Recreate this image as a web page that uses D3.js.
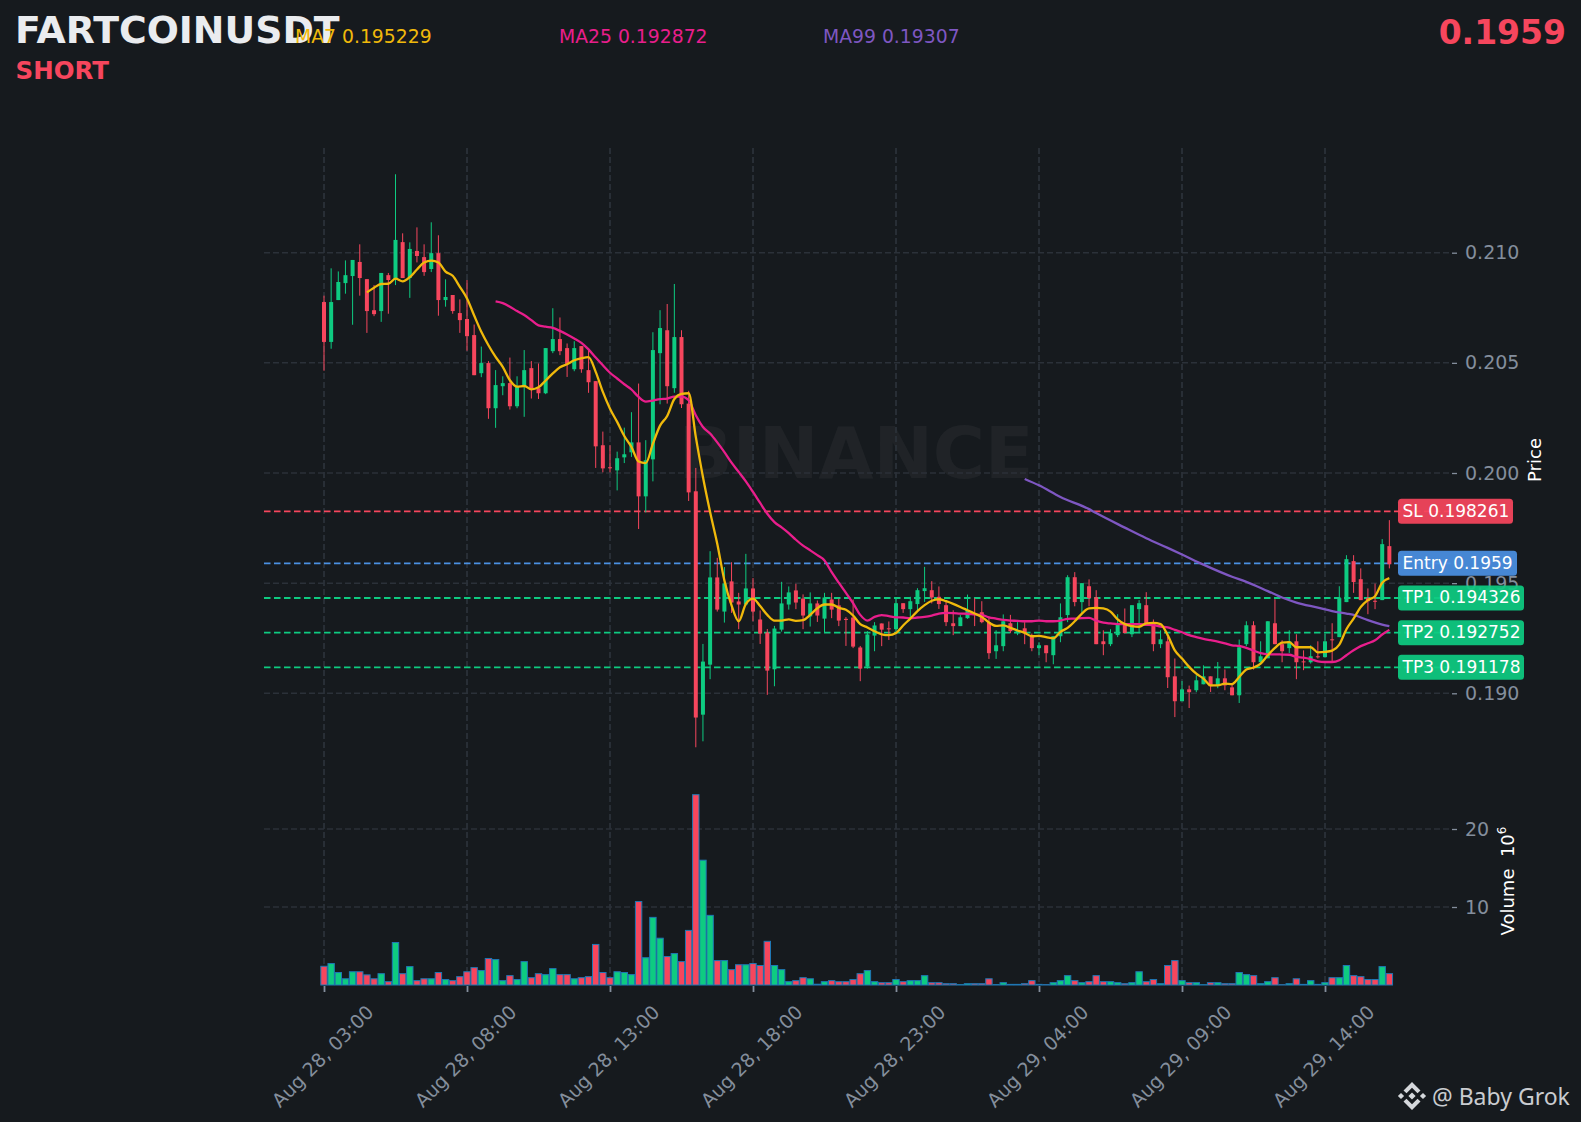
<!DOCTYPE html>
<html><head><meta charset="utf-8">
<script src="https://cdn.jsdelivr.net/npm/d3@7/dist/d3.min.js"></script>
<style>html,body{margin:0;padding:0;background:#161a1e}svg{display:block}text{font-family:"DejaVu Sans",sans-serif;white-space:pre}</style>
</head><body><svg id="c" width="1581" height="1122"></svg>
<script>
const opens=[.20776,.20595,.20785,.20862,.20894,.20958,.20880,.20739,.20735,.20898,.20880,.21048,.20885,.21008,.20980,.20926,.20998,.20785,.20808,.20726,.20699,.20626,.20453,.20499,.20294,.20394,.20408,.20303,.20394,.20476,.20385,.20362,.20553,.20608,.20567,.20471,.20576,.20467,.20417,.20126,.20026,.20012,.20071,.20094,.20139,.19894,.20062,.20544,.20648,.20385,.20617,.20315,.19917,.18903,.19130,.19526,.19371,.19508,.19417,.19403,.19476,.19335,.19276,.19109,.19289,.19403,.19467,.19430,.19349,.19408,.19339,.19426,.19399,.19338,.19344,.19208,.19121,.19262,.19317,.19295,.19291,.19409,.19382,.19405,.19464,.19468,.19438,.19400,.19318,.19305,.19341,.19365,.19368,.19323,.19191,.19214,.19318,.19273,.19295,.19259,.19205,.19218,.19173,.19259,.19355,.19527,.19414,.19486,.19436,.19236,.19223,.19264,.19314,.19268,.19382,.19400,.19323,.19223,.19236,.19077,.18964,.19018,.19014,.19041,.19077,.19036,.19068,.19027,.18991,.19223,.19309,.19141,.19159,.19318,.19223,.19205,.19236,.19145,.19141,.19168,.19164,.19245,.19255,.19414,.19600,.19518,.19432,.19420,.19423,.19668];
const highs=[.20805,.20929,.20915,.20965,.20967,.21038,.20880,.20853,.20908,.20908,.21356,.21088,.21047,.21115,.21038,.21138,.21079,.20879,.20808,.20788,.20876,.20674,.20574,.20508,.20467,.20439,.20524,.20439,.20558,.20508,.20497,.20567,.20748,.20706,.20588,.20598,.20576,.20558,.20417,.20188,.20126,.20097,.20206,.20276,.20406,.20149,.20639,.20739,.20767,.20858,.20648,.20373,.20023,.19224,.19645,.19615,.19573,.19595,.19456,.19633,.19523,.19376,.19292,.19306,.19506,.19485,.19497,.19449,.19458,.19421,.19456,.19456,.19429,.19346,.19426,.19215,.19282,.19323,.19317,.19326,.19430,.19409,.19438,.19477,.19574,.19509,.19485,.19423,.19377,.19355,.19448,.19432,.19418,.19347,.19286,.19358,.19356,.19323,.19323,.19271,.19232,.19218,.19259,.19408,.19536,.19550,.19500,.19517,.19468,.19286,.19291,.19359,.19385,.19400,.19423,.19459,.19335,.19286,.19256,.19158,.19056,.19035,.19082,.19127,.19077,.19142,.19108,.19044,.19244,.19327,.19327,.19236,.19327,.19427,.19241,.19286,.19268,.19195,.19218,.19236,.19271,.19318,.19486,.19627,.19627,.19567,.19476,.19498,.19700,.19786];
const lows=[.20464,.20564,.20785,.20814,.20673,.20805,.20636,.20712,.20686,.20723,.20853,.20885,.20795,.20956,.20895,.20912,.20714,.20755,.20723,.20636,.20555,.20444,.20435,.20246,.20205,.20353,.20288,.20294,.20255,.20338,.20336,.20358,.20544,.20535,.20436,.20462,.20455,.20364,.20023,.20003,.20003,.19921,.20045,.20073,.19746,.19821,.19962,.20312,.20315,.20364,.20295,.19873,.18755,.18782,.19064,.19371,.19321,.19365,.19291,.19397,.19327,.19224,.18993,.19032,.19280,.19380,.19382,.19291,.19303,.19324,.19274,.19341,.19305,.19215,.19205,.19055,.19112,.19191,.19214,.19242,.19279,.19365,.19341,.19377,.19415,.19408,.19383,.19305,.19264,.19305,.19338,.19305,.19318,.19156,.19156,.19191,.19274,.19264,.19223,.19191,.19173,.19141,.19132,.19232,.19323,.19395,.19359,.19395,.19223,.19173,.19214,.19255,.19273,.19255,.19273,.19314,.19191,.19205,.19024,.18892,.18964,.18933,.19005,.19041,.19006,.19023,.19014,.18991,.18956,.19214,.19108,.19141,.19159,.19223,.19141,.19183,.19064,.19105,.19135,.19158,.19164,.19141,.19255,.19414,.19456,.19423,.19359,.19382,.19423,.19567];
const closes=[.20595,.20776,.20867,.20898,.20967,.20885,.20735,.20721,.20908,.20876,.21058,.20885,.21017,.20985,.20912,.20998,.20785,.20799,.20735,.20694,.20621,.20444,.20499,.20294,.20399,.20408,.20303,.20394,.20467,.20385,.20362,.20567,.20608,.20553,.20494,.20567,.20471,.20412,.20121,.20021,.20023,.20067,.20085,.20139,.19894,.20058,.20558,.20658,.20394,.20617,.20312,.19912,.18890,.19144,.19526,.19380,.19499,.19412,.19403,.19476,.19371,.19271,.19103,.19294,.19408,.19458,.19412,.19353,.19408,.19353,.19435,.19380,.19330,.19333,.19212,.19112,.19267,.19308,.19289,.19292,.19409,.19382,.19418,.19468,.19477,.19435,.19405,.19323,.19305,.19345,.19377,.19362,.19323,.19182,.19218,.19327,.19282,.19286,.19273,.19205,.19218,.19182,.19259,.19345,.19527,.19414,.19500,.19432,.19223,.19223,.19273,.19314,.19273,.19400,.19409,.19314,.19223,.19245,.19073,.18964,.19018,.19005,.19059,.19077,.19032,.19068,.19036,.18991,.19209,.19309,.19141,.19168,.19327,.19223,.19191,.19236,.19141,.19142,.19168,.19165,.19236,.19242,.19432,.19609,.19505,.19423,.19418,.19417,.19677,.19586];
const volumes=[2.4,2.75,1.6,.8,1.7,1.7,1.3,.8,1.45,.43,5.45,1.45,2.36,.56,.8,.8,1.6,.7,.56,1.07,1.7,2.23,1.85,3.4,3.26,.56,1.2,.7,3.0,.94,1.45,1.33,2.1,1.33,1.33,.8,.94,1.07,5.2,1.6,.94,1.7,1.6,1.33,10.7,3.5,8.67,6.0,3.65,4.03,3.0,7.0,24.4,16.0,8.93,3.13,3.13,1.97,2.6,2.6,2.75,2.5,5.6,2.5,1.97,.43,.56,.94,.8,.1,.43,.56,.43,.43,.7,1.45,1.85,.43,.3,.3,.7,.43,.56,.56,1.2,.3,.3,.17,.17,.05,.17,.17,.17,.8,.05,.3,.08,.08,.17,.56,.08,.05,.3,.56,1.2,.56,.3,.43,1.2,.43,.43,.3,.17,.3,1.7,.43,.7,.17,2.5,3.13,.56,.3,.3,.04,.3,.3,.17,.17,1.6,1.33,1.2,.17,.43,.94,.04,.17,.8,.08,.56,.08,.3,.94,.94,2.5,1.2,1.07,.7,.7,2.36,1.46];
const ma7Start=6;
const ma7Values=[.20820,.20841,.20858,.20859,.20882,.20870,.20889,.20924,.20955,.20964,.20955,.20914,.20895,.20845,.20792,.20715,.20641,.20580,.20527,.20482,.20421,.20392,.20395,.20380,.20389,.20420,.20452,.20480,.20494,.20512,.20521,.20526,.20459,.20368,.20292,.20232,.20168,.20118,.20052,.20045,.20133,.20215,.20259,.20336,.20359,.20362,.20164,.19982,.19823,.19679,.19512,.19399,.19327,.19406,.19430,.19396,.19356,.19330,.19330,.19336,.19329,.19332,.19356,.19386,.19403,.19403,.19388,.19379,.19353,.19314,.19299,.19282,.19268,.19264,.19274,.19308,.19339,.19373,.19400,.19420,.19427,.19418,.19406,.19392,.19377,.19362,.19347,.19321,.19306,.19308,.19297,.19285,.19274,.19259,.19261,.19255,.19249,.19279,.19297,.19327,.19362,.19385,.19388,.19385,.19371,.19336,.19314,.19305,.19302,.19317,.19320,.19314,.19264,.19195,.19158,.19120,.19089,.19067,.19036,.19036,.19044,.19042,.19074,.19108,.19117,.19135,.19173,.19206,.19230,.19232,.19209,.19209,.19209,.19186,.19188,.19194,.19221,.19291,.19339,.19392,.19423,.19441,.19502,.19523];
const ma25Start=24;
const ma25Values=[.20779,.20771,.20755,.20735,.20717,.20694,.20670,.20664,.20659,.20645,.20629,.20611,.20591,.20561,.20524,.20489,.20455,.20429,.20403,.20379,.20345,.20324,.20329,.20335,.20338,.20347,.20347,.20330,.20262,.20209,.20179,.20139,.20095,.20047,.20005,.19962,.19914,.19864,.19815,.19777,.19753,.19727,.19697,.19670,.19649,.19627,.19603,.19550,.19502,.19456,.19409,.19356,.19330,.19347,.19355,.19350,.19345,.19344,.19341,.19344,.19347,.19353,.19362,.19365,.19364,.19362,.19361,.19358,.19356,.19345,.19339,.19333,.19330,.19329,.19327,.19327,.19330,.19327,.19327,.19330,.19338,.19339,.19341,.19342,.19330,.19321,.19317,.19314,.19314,.19314,.19314,.19311,.19309,.19303,.19299,.19288,.19277,.19264,.19255,.19247,.19241,.19235,.19227,.19218,.19215,.19206,.19194,.19182,.19177,.19177,.19176,.19175,.19165,.19162,.19155,.19145,.19142,.19142,.19150,.19173,.19195,.19214,.19227,.19241,.19267,.19288];
const ma99Index=[98,100,103,107,108,112,115,118,120,123,127,129,132,134,136,139,141,143,144,146,148,149];
const ma99Values=[.19973,.19944,.19891,.19836,.19818,.19752,.19704,.19660,.19630,.19584,.19529,.19506,.19464,.19435,.19412,.19389,.19373,.19362,.19356,.19332,.19312,.19305];
const levelNames=["SL","Entry","TP1","TP2","TP3"];
const levelValues=[.198261,.1959,.194326,.192752,.191178];
const levelTexts=["SL 0.198261","Entry 0.1959","TP1 0.194326","TP2 0.192752","TP3 0.191178"];
const priceTicks=[.19,.195,.2,.205,.21];
const volumeTicks=[10,20];
const timeTickIndex=[0,20,40,60,80,100,120,140];
const timeTickLabels=["Aug 28, 03:00","Aug 28, 08:00","Aug 28, 13:00","Aug 28, 18:00","Aug 28, 23:00","Aug 29, 04:00","Aug 29, 09:00","Aug 29, 14:00"];

const UP="#0ecb81",DOWN="#f6465d",GRID="#2b3139",TICK="#848e9c",MA7="#f0b90b",MA25="#e91e8c",MA99="#7e57c2";
const levelColors=[DOWN,"#4a90e2",UP,UP,UP];
const labelFill=["#f6465d","#4a90e2","#0ecb81","#0ecb81","#0ecb81"];
const labelW=[115,119,126,126,126];

const svg=d3.select("#c");
svg.append("rect").attr("width",1581).attr("height",1122).attr("fill","#161a1e");
const x=d3.scaleLinear().domain([0,140]).range([324,1325]);
const y=d3.scaleLinear().domain([.19,.21]).range([693.3,252.7]);
const v=d3.scaleLinear().domain([0,20]).range([985,829]);

// watermark
svg.append("text").attr("x",856).attr("y",478).attr("text-anchor","middle").attr("font-size",71).attr("font-weight","bold").attr("fill","#fff").attr("fill-opacity",.045).text("BINANCE");

// grid + axes
const grid=svg.append("g").attr("stroke",GRID).attr("stroke-dasharray","6,3");
grid.selectAll("v").data(timeTickIndex).join("line").attr("x1",d=>x(d)).attr("x2",d=>x(d)).attr("y1",148).attr("y2",985).attr("stroke-width",1.8);
grid.selectAll("h").data(priceTicks).join("line").attr("x1",264).attr("x2",1452).attr("y1",d=>y(d)).attr("y2",d=>y(d)).attr("stroke-width",1.5);
grid.selectAll("w").data(volumeTicks).join("line").attr("x1",264).attr("x2",1452).attr("y1",d=>v(d)).attr("y2",d=>v(d)).attr("stroke-width",1.5);

function styleAxis(g){
  g.select(".domain").remove();
  g.selectAll(".tick line").attr("stroke",TICK).attr("stroke-width",1.3);
  g.selectAll(".tick text").attr("fill",TICK).attr("font-size",19).attr("font-family",'"DejaVu Sans"');
}
svg.append("g").attr("transform","translate(1452,0)").call(d3.axisRight(y).tickValues(priceTicks).tickFormat(d3.format(".3f")).tickSize(5).tickPadding(8)).call(styleAxis);
svg.append("g").attr("transform","translate(1452,0)").call(d3.axisRight(v).tickValues(volumeTicks).tickFormat(d3.format("d")).tickSize(5).tickPadding(8)).call(styleAxis);
const xa=svg.append("g").attr("transform","translate(0,986)").call(d3.axisBottom(x).tickValues(timeTickIndex).tickFormat((d,i)=>timeTickLabels[i]).tickSize(6)).call(styleAxis);
xa.selectAll(".tick line").attr("stroke-width",1.8);
xa.selectAll(".tick text").attr("y",0).attr("dy",0).attr("text-anchor","middle").attr("dominant-baseline","central").attr("transform","translate(-2,70) rotate(-45)");

// levels
const lv=svg.append("g");
lv.selectAll("line").data(levelValues).join("line").attr("x1",264).attr("x2",1452).attr("y1",d=>y(d)).attr("y2",d=>y(d)).attr("stroke",(d,i)=>levelColors[i]).attr("stroke-width",1.8).attr("stroke-dasharray","6.5,3.5");

// volume
const idx=d3.range(closes.length);
const col=i=>closes[i]>=opens[i]?UP:DOWN;
svg.append("g").selectAll("rect").data(idx).join("rect")
 .attr("x",i=>x(i)-3.2).attr("width",6.4).attr("y",i=>v(volumes[i])).attr("height",i=>v(0)-v(volumes[i]))
 .attr("fill",i=>col(i)).attr("stroke","#1f77b4").attr("stroke-width",1);

// candles
const cg=svg.append("g");
cg.selectAll("line").data(idx).join("line").attr("x1",i=>x(i)).attr("x2",i=>x(i)).attr("y1",i=>y(highs[i])).attr("y2",i=>y(lows[i])).attr("stroke",i=>col(i)).attr("stroke-width",1);
cg.selectAll("rect").data(idx).join("rect").attr("x",i=>x(i)-2).attr("width",4)
 .attr("y",i=>y(Math.max(opens[i],closes[i]))).attr("height",i=>Math.max(1,Math.abs(y(opens[i])-y(closes[i])))).attr("fill",i=>col(i));

// moving averages
const line=d3.line().x(d=>x(d[0])).y(d=>y(d[1])).curve(d3.curveMonotoneX);
const maLines=[[ma7Values.map((d,i)=>[i+ma7Start,d]),MA7],[ma25Values.map((d,i)=>[i+ma25Start,d]),MA25],[ma99Values.map((d,i)=>[ma99Index[i],d]),MA99]];
maLines.slice().reverse().forEach(m=>svg.append("path").attr("d",line(m[0])).attr("fill","none").attr("stroke",m[1]).attr("stroke-width",2.3));

// level labels
const lb=svg.append("g").selectAll("g").data(levelValues).join("g").attr("transform",d=>`translate(1398,${y(d)-12.5})`);
lb.append("rect").attr("width",(d,i)=>labelW[i]).attr("height",25).attr("rx",3.5).attr("fill",(d,i)=>labelFill[i]).attr("fill-opacity",.93);
lb.append("text").attr("x",4.5).attr("y",18).attr("font-size",17).attr("fill","#fff").text((d,i)=>levelTexts[i]);

// axis titles
svg.append("text").attr("transform","translate(1541,460) rotate(-90)").attr("text-anchor","middle").attr("font-size",18).attr("fill","#fff").text("Price");
const vt=svg.append("text").attr("transform","translate(1514,881) rotate(-90)").attr("text-anchor","middle").attr("font-size",18).attr("fill","#fff");
vt.append("tspan").text("Volume  10");
vt.append("tspan").attr("font-size",12).attr("dy",-8).text("6");

// header
svg.append("text").attr("x",15).attr("y",43).attr("font-size",37.8).attr("font-weight","bold").attr("fill","#eaecef").text("FARTCOINUSDT");
svg.append("text").attr("x",15.5).attr("y",79).attr("font-size",24.5).attr("font-weight","bold").attr("fill",DOWN).text("SHORT");
svg.append("text").attr("x",295).attr("y",43).attr("font-size",18.8).attr("fill",MA7).text("MA7 0.195229");
svg.append("text").attr("x",559).attr("y",43).attr("font-size",18.8).attr("fill",MA25).text("MA25 0.192872");
svg.append("text").attr("x",823).attr("y",43).attr("font-size",18.8).attr("fill",MA99).text("MA99 0.19307");
svg.append("text").attr("x",1566).attr("y",44).attr("text-anchor","end").attr("font-size",33).attr("font-weight","bold").attr("fill",DOWN).text("0.1959");

// footer
const logo=svg.append("g").attr("transform","translate(1412,1096)").attr("fill","#d5d8dc");
const diamond=(cx,cy,r)=>`M${cx},${cy-r}L${cx+r},${cy}L${cx},${cy+r}L${cx-r},${cy}Z`;
logo.append("path").attr("d",diamond(0,0,3.6)+diamond(-11,0,3.1)+diamond(11,0,3.1));
logo.append("path").attr("d","M0,-14L8.5,-5.5L5.5,-2.8L0,-8.2L-5.5,-2.8L-8.5,-5.5Z M0,14L8.5,5.5L5.5,2.8L0,8.2L-5.5,2.8L-8.5,5.5Z");
svg.append("text").attr("x",1432).attr("y",1105).attr("font-size",23).attr("fill","#c9ccd0").style("font-family",'"Noto Sans"').text("@ Baby Grok");
</script></body></html>
